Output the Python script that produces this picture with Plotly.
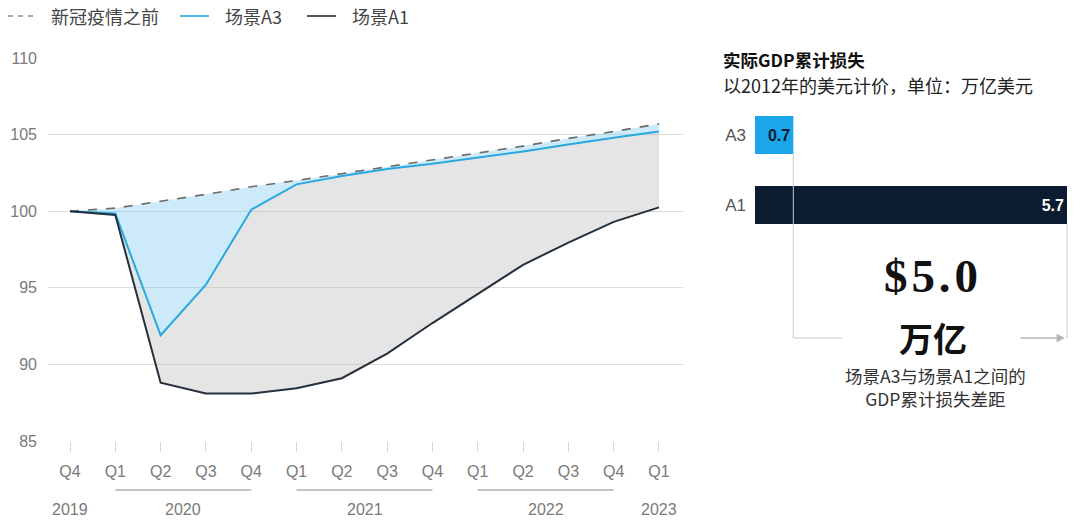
import plotly.graph_objects as go

# ---------------- data ----------------
quarters = ["Q4", "Q1", "Q2", "Q3", "Q4", "Q1", "Q2", "Q3", "Q4", "Q1", "Q2", "Q3", "Q4", "Q1"]
quarter_years = ["2019", "2020", "2020", "2020", "2020", "2021", "2021", "2021", "2021",
                 "2022", "2022", "2022", "2022", "2023"]
pre_covid = [100.0, 100.2, 100.65, 101.1, 101.6, 102.0, 102.45, 102.9, 103.35, 103.8, 104.25, 104.75, 105.2, 105.7]
scen_a3 = [100.0, 99.85, 91.9, 95.2, 100.1, 101.75, 102.3, 102.75, 103.1, 103.5, 103.9, 104.35, 104.8, 105.2]
scen_a1 = [100.0, 99.75, 88.8, 88.1, 88.1, 88.45, 89.1, 90.7, 92.7, 94.6, 96.5, 97.95, 99.3, 100.25]
series_names = ["新冠疫情之前", "场景A3", "场景A1"]
y_ticks = [85, 90, 95, 100, 105, 110]

bar_labels = ["A3", "A1"]
bar_values = [0.7, 5.7]

W, H = 1080, 524
def px(x):
    return x / W
def py(y):
    return 1 - y / H

xs = list(range(len(quarters)))

# ---------------- colours / fonts ----------------
C_DASH = "#6b6b6b"
C_A3 = "#2aa8e0"
C_A1 = "#24303d"
C_FILL_A3 = "rgba(120,200,240,0.38)"
C_FILL_A1 = "rgba(190,190,190,0.40)"
C_BAR_A3 = "#1ca6ea"
C_BAR_A1 = "#0b1b30"
CJK = "Noto Sans CJK SC"
NUM = "Liberation Sans"

fig = go.Figure()

# fill-only traces
fig.add_trace(go.Scatter(x=xs, y=pre_covid, mode="lines", line=dict(width=0),
                         showlegend=False, hoverinfo="skip"))
fig.add_trace(go.Scatter(x=xs, y=scen_a3, mode="lines", line=dict(width=0),
                         fill="tonexty", fillcolor=C_FILL_A3, showlegend=False, hoverinfo="skip"))
fig.add_trace(go.Scatter(x=xs, y=scen_a1, mode="lines", line=dict(width=0),
                         fill="tonexty", fillcolor=C_FILL_A1, showlegend=False, hoverinfo="skip"))
# line traces
line_styles = [dict(color=C_DASH, width=1.6, dash="dash"),
               dict(color=C_A3, width=2),
               dict(color=C_A1, width=2)]
for name, ys, st in zip(series_names, [pre_covid, scen_a3, scen_a1], line_styles):
    fig.add_trace(go.Scatter(x=xs, y=ys, mode="lines", name=name, line=st, showlegend=False))

# bar panel
fig.add_trace(go.Bar(
    x=bar_values, y=bar_labels, orientation="h", xaxis="x2", yaxis="y2",
    marker=dict(color=[C_BAR_A3, C_BAR_A1], line=dict(width=0)),
    width=0.54, text=[f"{v:.1f}" for v in bar_values], textposition="inside",
    insidetextanchor="end", textangle=0, constraintext="none",
    textfont=dict(family=NUM, size=16, color=[C_BAR_A1, "#ffffff"], weight="bold"),
    showlegend=False, hoverinfo="skip"))

# ---------------- axes ----------------
main_x_dom = [px(48), px(683)]
main_y_dom = [py(441), py(58)]
bar_x_dom = [px(755), px(1067)]
bar_y_dom = [py(240), py(100)]

fig.update_layout(
    width=W, height=H,
    margin=dict(l=0, r=0, t=0, b=0),
    paper_bgcolor="white", plot_bgcolor="white",
    xaxis=dict(domain=main_x_dom, range=[-0.486, 13.53], tickmode="array",
               tickvals=xs, ticktext=quarters, showgrid=False, zeroline=False,
               showline=False, ticks="outside", ticklen=10, tickwidth=1,
               tickcolor="#d6d6d6", tickfont=dict(family=NUM, size=16, color="#7a7a7a"),
               ticklabelstandoff=6, anchor="y", automargin=False),
    yaxis=dict(domain=main_y_dom, range=[85, 110], tickmode="array", tickvals=y_ticks,
               showgrid=True, gridcolor="#dcdcdc", gridwidth=1, zeroline=False,
               showline=False, ticks="", tickfont=dict(family=NUM, size=16, color="#7a7a7a"),
               ticklabelstandoff=10, anchor="x", automargin=False),
    xaxis2=dict(domain=bar_x_dom, range=[0, max(bar_values)], showgrid=False,
                zeroline=False, showline=False, showticklabels=False, anchor="y2",
                automargin=False),
    yaxis2=dict(domain=bar_y_dom, type="category", categoryorder="array",
                categoryarray=bar_labels, range=[1.5, -0.5], showgrid=False,
                zeroline=False, showline=False, ticks="",
                tickfont=dict(family=NUM, size=17, color="#555555"),
                ticklabelstandoff=8, anchor="x2", automargin=False),
    showlegend=False,
)

shapes = []
annotations = []

# manual legend (top-left)
leg_sym_x = [8, 180, 307]
leg_txt_x = [49, 223, 350]
leg_y = 16
leg_colors = ["#8a8a8a", C_A3, C_A1]
leg_dash = ["5px,5px", "solid", "solid"]
for name, sx, tx, col, dsh in zip(series_names, leg_sym_x, leg_txt_x, leg_colors, leg_dash):
    shapes.append(dict(type="line", xref="paper", yref="paper", x0=px(sx), x1=px(sx + 29),
                       y0=py(leg_y), y1=py(leg_y), line=dict(color=col, width=1.6, dash=dsh)))
    annotations.append(dict(x=px(tx), y=py(leg_y), xref="paper", yref="paper", text=name,
                            showarrow=False, xanchor="left", yanchor="middle",
                            font=dict(family=CJK, size=18, color="#444444")))

# year labels + underlines
groups = []
for i, yr in enumerate(quarter_years):
    if groups and groups[-1][0] == yr:
        groups[-1][2] = i
    else:
        groups.append([yr, i, i])
for yr, i0, i1 in groups:
    annotations.append(dict(x=(i0 + i1) / 2, y=py(509), xref="x", yref="paper",
                            text=yr, showarrow=False, xanchor="center", yanchor="middle",
                            font=dict(family=NUM, size=16, color="#7a7a7a")))
    if i1 > i0:
        shapes.append(dict(type="line", xref="x", yref="paper", x0=i0, x1=i1,
                           y0=py(490), y1=py(490), line=dict(color="#8a8a8a", width=1)))

# bar panel title
annotations.append(dict(x=px(721), y=py(60), xref="paper", yref="paper",
                        text="<b>实际GDP累计损失</b>", showarrow=False, xanchor="left",
                        yanchor="middle", font=dict(family=CJK, size=17.5, color="#111111")))
annotations.append(dict(x=px(721), y=py(85), xref="paper", yref="paper",
                        text="以2012年的美元计价，单位：万亿美元", showarrow=False, xanchor="left",
                        yanchor="middle", font=dict(family=CJK, size=18, color="#222222")))

# connector lines (positions derived from bar values)
def bar_px(v):
    return bar_x_dom[0] + v / max(bar_values) * (bar_x_dom[1] - bar_x_dom[0])

xa3 = bar_px(bar_values[0])
xa1 = bar_px(bar_values[1])
LINE_C = "#c6c6c6"
shapes.append(dict(type="line", xref="paper", yref="paper", x0=xa3, x1=xa3,
                   y0=py(154), y1=py(338), line=dict(color=LINE_C, width=1), layer="above"))
shapes.append(dict(type="line", xref="paper", yref="paper", x0=xa1, x1=xa1,
                   y0=py(224), y1=py(338), line=dict(color=LINE_C, width=1), layer="above"))
shapes.append(dict(type="line", xref="paper", yref="paper", x0=xa3, x1=px(842),
                   y0=py(338), y1=py(338), line=dict(color=LINE_C, width=1), layer="above"))
annotations.append(dict(x=xa1 - px(2), y=py(338), xref="paper", yref="paper", text="",
                        showarrow=True, ax=-46, ay=0, arrowhead=2, arrowsize=1.2,
                        arrowwidth=1.4, arrowcolor="#b5b5b5"))

gap = bar_values[1] - bar_values[0]
gap_txt = "\u200a".join(f"${gap:.1f}")
annotations.append(dict(x=px(931), y=py(276), xref="paper", yref="paper",
                        text=f"<b>{gap_txt}</b>", showarrow=False, xanchor="center",
                        yanchor="middle", font=dict(family="Liberation Serif", size=47, color="#111111")))
annotations.append(dict(x=px(933), y=py(337), xref="paper", yref="paper",
                        text="<b>万亿</b>", showarrow=False, xanchor="center",
                        yanchor="middle", font=dict(family=CJK, size=34, color="#111111")))
annotations.append(dict(x=px(935), y=py(387), xref="paper", yref="paper",
                        text="场景A3与场景A1之间的<br>GDP累计损失差距", showarrow=False,
                        xanchor="center", yanchor="middle", align="center",
                        font=dict(family=CJK, size=17.5, color="#333333")))

fig.update_layout(shapes=shapes, annotations=annotations)
fig.write_html("out.html")
